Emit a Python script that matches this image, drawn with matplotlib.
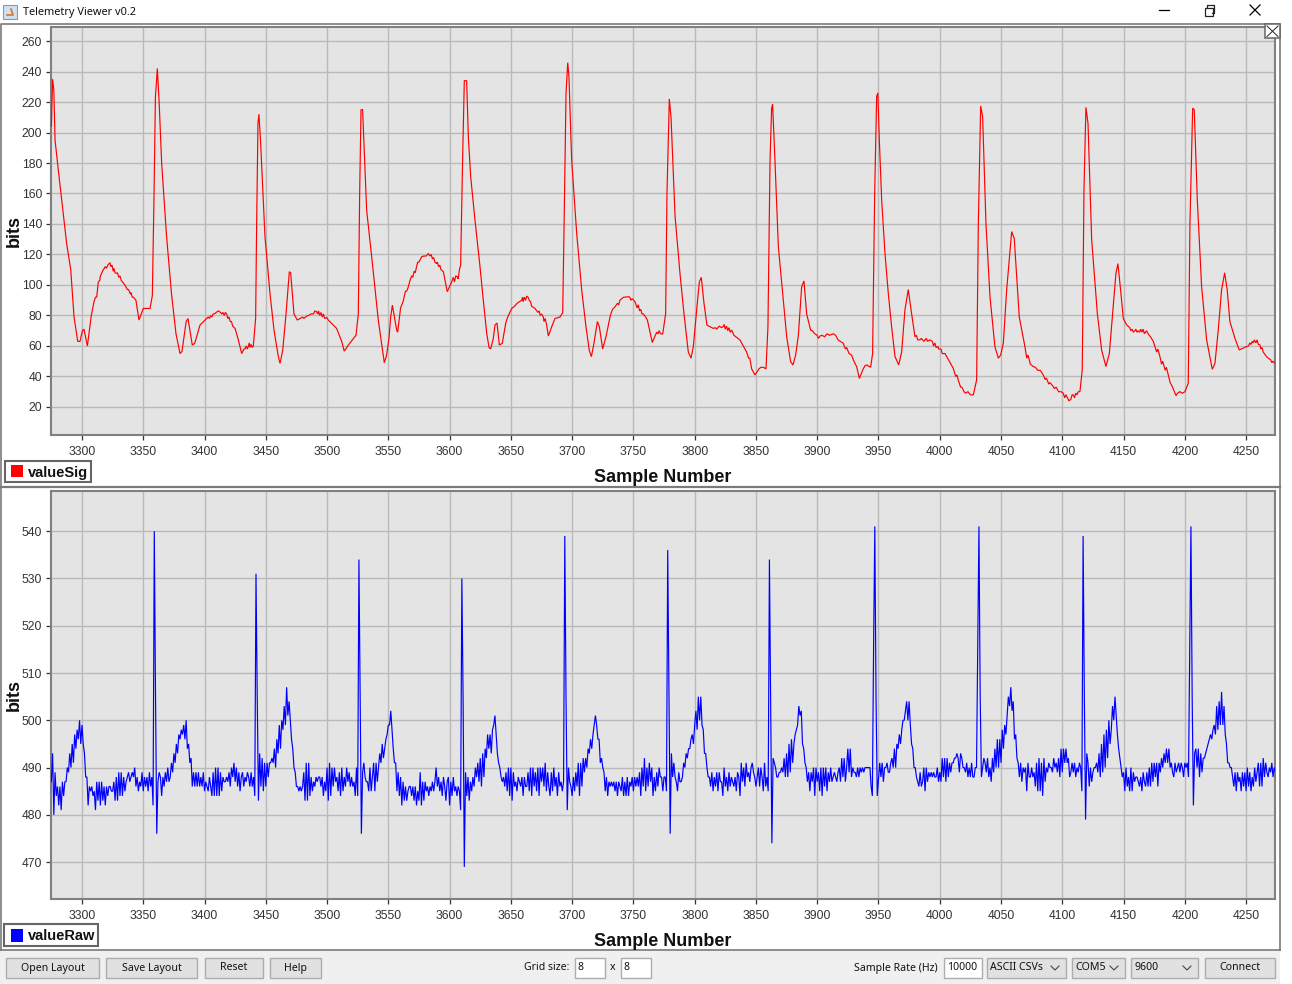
import numpy as np
import matplotlib
matplotlib.use("Agg")
import matplotlib.pyplot as plt
from matplotlib.patches import Rectangle

# ---------- data ----------
sig_samples = [
 3275,3276,3277,3278,3281,3285,3287.5,3290.8,3293.5,3296.5,3298.4,3300.3,3301.6,3304.4,3307.6,3309.8,3313.3,3317.4,3322.9,3328.3,3335,3342,3344,3346.5,3350,3355.5,3357.4,3358.8,3359.9,3361.5,3363,3365,3369,3373,3376.7,3380,3381.6,3383.3,3385,3386.5,3390,3392,3396.3,3401.7,3411.3,3418,3424.9,3427.6,3430.3,3432.2,3435.8,3439.8,3441.7,3442.5,3443.6,3444.4,3445.8,3449.3,3453.4,3456.7,3460,3461.6,3463.8,3466.5,3469.2,3470.3,3473,3475.7,3483.3,3491.5,3499.7,3507.8,3512,3514,3517.4,3523.6,3525.5,3526.6,3527.7,3529,3532.3,3536.4,3541.8,3546.7,3548.6,3550.5,3551.9,3553.3,3556.8,3557.6,3562,3567.7,3573,3577.2,3582.6,3589.4,3594.9,3598.1,3601.7,3606.3,3609,3610.6,3612,3613.9,
 3615.3,3617.2,3620.7,3624.8,3627.5,3630.3,3632.2,3633.5,3635.7,3637,3638.7,3640.6,3643,3645.8,3650.7,3658.8,3662.9,3669.7,3676.5,3679.2,3680.6,3683.3,3686,3690.1,3692.3,3693.4,3695,3696.4,3697.4,3699.6,3703.7,3707.8,3711.3,3714,3715.7,3717.8,3720.6,3722.2,3724.9,3727.6,3730.9,3735,3741.8,3745.9,3751.3,3758.1,3761.4,3765.4,3769,3773.9,3776.3,3777.4,3779.3,3780.7,3784,3788,3791.3,3794.8,3797,3798.9,3801.6,3803.8,3805.4,3807.6,3810,3815.2,3823.4,3830.2,3837,3842.4,3846.5,3849.2,3852.5,3858.2,3859.8,3861.5,3862.8,3863.6,3865.5,3868.3,3871.8,3875.1,3878.3,3880.2,3882.4,3884.6,3887.3,3889.2,3891.4,3894.6,3902.3,3913.1,3921.3,3928.1,3932.2,3934.4,3937.6,3940.4,3943.6,3945.2,3946.9,3948.5,3949.5,
 3950.7,3952.6,3955.3,3958,3960.7,3963.5,3966.5,3968.9,3971.6,3974.3,3977,3979.8,3983.9,3992,3998.8,4004.3,4011,4015.1,4019.8,4027.4,4030.1,4031.5,4033.4,4035,4037.7,4041,4045,4047.8,4049.7,4051.9,4054.6,4058.7,4060.8,4064.9,4069.5,4076.3,4084.5,4092.7,4100.8,4105.4,4109,4114.4,4116.3,4117.7,4119.3,4121,4124,4128.6,4132.1,4135.6,4138.4,4141.1,4143.8,4145.4,4147.6,4149.8,4152.5,4159.3,4168.8,4174.3,4179.7,4186.5,4192.8,4200.1,4202.8,4204.2,4206.4,4207.7,4210.2,4213.7,4217.8,4222.4,4224.6,4227.3,4230,4232.5,4234.6,4236.8,4240.9,4244.4,4250.4,4256.7,4261.3,4266.7,4273.5]
sig_values = [
 204,235,228,195,173,145,127,110,79,63,63,70,71,60,80,89,102,110,114.6,107.6,100,92,90,77,84.6,84.6,93,160,223,242,219,180,132,94.5,68,55,56.4,66,76,78,60.6,61.7,73.7,78,83,81,71.5,64,55,58,60,60,78,138,206,212,193,132,94.5,70.4,54,48.6,57,81,108.7,108,81,77,79.6,82.4,78.7,71.5,62.8,56.6,60.6,67,81,160,215,215,149,118.5,77,49,54,65,79,86.8,70.4,69,89,103,112,118.5,120.7,114,108.7,95.6,102,105.4,113,182,234,234,
 197,171,142.6,112,90,68,59,58,65,73.7,75,60.6,61.7,75,84.6,90,92.7,84.6,79,73.7,66.5,72.6,78,79,81.8,138,225.6,245.8,236.6,182,134,96.7,72.6,57,53,61.7,76,72.6,58,66,79,85.7,91.9,92.3,89,81,77,62.3,69,67.8,81,160,222,210,145,107.6,81,56,52,59.5,83.5,102,105,88,73.7,71.5,73,70.4,63.9,56,45,41,45,45,72.6,182,215.8,218.6,182,125,94.5,66,49.7,47.5,54,67,98.8,102.6,81,70.4,66.5,68,61.7,54,46.4,38.7,45,47.5,46,55,160,223.5,226,
 195,155.8,120.8,94.6,72.7,53,47.6,56,83.6,97,81.4,66,64,64,59.6,55,45.4,37.7,30,27.9,37.7,140.5,217.4,210.4,140.5,92.4,59.6,52,54,61.8,96.7,135,130.6,79,59.6,46.5,41,33.3,29,24,27.9,30,44.3,162,216.5,206,129.5,81.4,57.4,46.5,55,81.4,107.7,114,96.7,78,73.8,70,70,63,53,41,27.4,30,35.5,140.5,216,215,155.8,99,64,44.7,48.6,70.5,96.7,108,96.7,76,65,57.4,59.6,64,60.7,53,48.6]

# finer wiggle on the slow stretches between the spikes
sig_fine_samples = [
 3311,3312,3314.5,3315,3319,3320,3321,3323.5,3324.5,3325.5,3326,3327,3329,3330,3331,3332,3337,3338,3339.5,3340,3341,3343,
 3403,3404,3405,3406,3407,3408,3409.5,3413,3414,3415,3416,3417,3419,3420,3421,3422,3423,3433,3434,3435,3436.5,3437,3438,3439,
 3478,3480,3481,3485,3487,3489,3490,3492.5,3493,3494,3495,3496,3497,3498,3501,
 3560,3564,3565,3566,3569,3570,3571,3572,3574,3575,3579,3581,3584,3585,3586,3587,3588,3590,3591,3592,3593,3603,3604,3605,3607,3608,
 3647,3648,3653,3655,3657,3659.5,3660,3661,3662,3664,3665,3666,3667,3672,3673,3674,3675,3677,3678,
 3732,3733,3737,3738,3739,3743,3747,3748,3749,3753,3754,3755,3756,3757,3759,3760,3770,3771,3772,
 3817,3818,3820,3822,3824,3825,3826,3827,3828,3829,3831,3832,3844,3845,3854,3856,
 3896,3898,3900,3901,3904,3906,3908,3910,3915,3917,3923,3924,3926,3929,3930,3936,3939,
 3981,3982,3985,3987,3989,3990,3994,3995,3996,3997,3999,4001,4002,4013,4014,4017,4018,4021,4023,4025,
 4071,4072,4074,4078,4080,4082,4086,4087,4089,4090,4093.5,4095,4097,4099,4102,4103,4107,4108,4110,4111,4112,4113,
 4155,4156,4157,4158,4160,4161,4162,4163,4164,4165,4166,4167,4170,4172,4177,4178,4181,4182,4184,4185,4188,4190,4194,4196,4198,
 4252,4253,4254,4255,4256,4258,4259,4260,4262,4263,4264,4268,4270,4271,4272]
sig_fine_values = [
 92,92,103,106,112,111,113,112,113,109,111,108,108,105,106,103,97,97,94,95,92,91,
 79,78,80,79,81,81,82,82,81,82,80,82,78,79,76,76,73,58,60,58,62,59,61,59,
 78,79,78,80,81,81,83,81,83,80,82,79,81,78,77,
 85,96,96,98,106,105,109,108,115,115,119,119,119,120,117,118,115,115,112,113,110,105,102,106,104,110,
 78,80,86,88,89,92,89,92,90,92,90,89,86,82,83,80,81,76,78,
 82,84,88,87,90,92,92,90,91,85,87,83,84,81,80,79,68,70,68,
 72,71,73,72,74,71,73,70,72,69,69,67,52,52,46,46,
 70,68,67,65,67,66,68,67,67,64,58,59,55,52,50,42,47,
 67,64,65,63,65,63,63,60,62,59,58,58,55,40,41,33,33,29,30,28,
 52,54,48,46,44,44,38,39,35,36,32,33,30,30,26,28,25,28,26,29,28,30,
 72,70,71,69,71,69,70,69,71,69,71,68,68,66,56,58,48,50,44,46,36,33,29,30,29,
 60,62,61,63,62,62,64,61,58,59,56,52,51,49,50]

# each list holds one beat's samples; the last one falls on the matching entry of raw_last_samples
raw_last_samples = [3361,3444,3528,3612,3696,3780,3863,3949,4034,4119,4207,4275]
raw_beat_0 = [487,493,480,489,484,486,482,486,481,487,484,487,487,490,489,493,490,495,491,497,494,498,496,500,495,499,495,493,488,488,482,486,485,486,484,485,481,487,483,487,482,487,483,486,482,486,484,486,486,485,485,487,483,488,483,489,484,489,484,488,485,487,488,489,487,488,489,488,490,486,488,485,487,486,489,485,488,486,488,485,489,486,488,482,540,505,476]
raw_beat_1 = [487,489,488,484,488,486,489,487,490,487,488,491,489,493,491,495,493,497,496,498,497,499,496,500,494,495,491,492,486,489,486,489,486,489,486,488,486,489,485,487,486,485,488,486,484,489,484,490,484,490,484,489,485,488,487,487,488,487,489,486,490,488,491,487,490,486,489,485,488,489,486,488,487,489,488,486,489,486,488,484,531,505,483]
raw_beat_2 = [493,486,492,485,491,486,491,488,491,491,492,491,494,490,496,493,499,494,500,498,503,499,507,501,504,500,496,494,490,489,486,486,485,486,485,486,489,483,491,483,491,484,488,485,487,486,488,487,488,488,486,488,484,487,485,490,483,491,484,490,486,490,487,488,485,489,484,490,485,488,486,490,487,489,486,488,486,487,484,490,484,534,505,476]
raw_beat_3 = [489,491,488,487,487,485,490,485,488,491,485,491,487,490,493,491,495,492,494,496,497,499,499,502,498,494,491,491,485,489,484,488,482,487,483,486,483,485,486,486,484,486,483,486,482,485,483,489,482,487,483,487,485,486,484,486,485,487,485,487,490,486,488,485,487,484,488,486,483,487,488,482,487,484,488,485,486,484,486,485,481,530,505,469]
raw_beat_4 = [489,484,488,483,487,485,488,486,490,488,491,487,492,486,493,488,494,492,497,494,497,493,498,499,501,497,493,491,490,488,487,488,486,489,485,490,484,490,483,489,486,487,485,488,487,486,488,484,488,486,486,489,485,490,484,490,486,489,485,490,484,490,487,490,486,491,485,489,486,484,489,485,490,486,488,484,489,486,487,485,487,539,505,481]
raw_beat_5 = [490,487,486,484,488,485,489,486,491,484,491,486,492,489,492,490,494,493,496,494,497,499,501,499,496,496,491,492,490,489,485,488,484,487,486,487,486,487,485,487,484,487,486,485,488,484,487,484,488,484,487,486,488,485,488,486,488,486,489,484,490,486,492,485,490,486,491,487,490,484,488,485,489,486,490,488,488,485,488,488,485,536,505,476]
raw_beat_6 = [493,488,491,488,487,485,489,487,487,488,491,490,493,492,494,494,496,497,495,499,502,498,505,500,505,499,498,493,493,490,488,488,486,489,485,488,486,489,485,489,487,487,484,490,486,488,485,489,486,488,487,486,488,485,489,488,484,491,487,490,486,491,488,489,487,490,491,489,488,486,488,490,486,490,488,485,491,486,488,485,534,505,474]
raw_beat_7 = [492,491,490,488,488,489,489,490,489,492,488,493,488,495,489,496,491,495,497,498,499,503,501,502,495,494,491,490,487,489,485,489,487,490,484,490,487,489,485,490,484,490,486,490,485,489,487,490,487,488,489,488,487,489,490,487,492,488,492,487,490,494,489,494,488,490,489,489,488,490,488,490,489,490,489,490,490,490,490,490,486,484,515,541,505,484]
raw_beat_8 = [491,488,491,487,490,490,491,489,489,491,492,490,494,490,495,494,497,495,498,500,500,502,504,500,504,499,495,494,490,490,488,487,486,489,486,487,490,485,490,487,489,488,489,488,489,488,488,490,487,489,487,492,488,492,487,492,488,491,489,491,491,492,492,493,492,489,493,492,490,490,489,491,488,490,488,491,488,488,490,490,515,541,505,488]
raw_beat_9 = [490,492,491,489,492,488,490,487,492,489,494,490,496,490,496,491,498,494,499,497,501,505,503,507,502,504,496,497,492,491,488,491,487,490,489,490,485,491,488,488,490,488,489,486,491,485,492,485,491,484,492,487,490,489,491,490,490,489,492,490,491,489,492,488,494,489,494,491,494,491,492,488,489,491,489,491,488,490,489,491,490,485,539,505,479]
raw_beat_10 = [493,491,486,490,487,489,490,490,491,489,493,488,495,489,497,490,498,492,500,495,498,503,500,505,501,497,494,492,490,488,489,485,490,486,488,485,490,485,489,487,488,488,487,486,488,485,489,487,486,489,486,490,486,491,487,491,488,491,486,491,489,492,490,493,491,494,491,494,490,491,489,488,491,489,490,491,489,491,490,488,491,490,491,488,515,541,505,482]
raw_beat_11 = [493,494,490,494,488,493,489,492,492,493,494,495,496,497,496,498,499,497,503,498,504,499,506,499,503,497,495,491,491,490,490,488,486,489,485,489,487,488,485,489,486,489,485,490,486,489,485,488,486,490,487,489,491,486,491,486,492,488,491,489,488,490,489,491,488,490,489,492]
raw_beats = [raw_beat_0,raw_beat_1,raw_beat_2,raw_beat_3,raw_beat_4,raw_beat_5,raw_beat_6,raw_beat_7,raw_beat_8,raw_beat_9,raw_beat_10,raw_beat_11]

x_ticks = list(range(3300, 4251, 50))
sig_y_ticks = list(range(20, 261, 20))
raw_y_ticks = list(range(470, 541, 10))
x_label = "Sample Number"
y_label = "bits"
sig_name = "valueSig"
raw_name = "valueRaw"
window_title = "Telemetry Viewer v0.2"

# ---------- helpers ----------
W, H = 1292, 984
UI = "Noto Sans"
ARIAL = "Liberation Sans"
UI_SIZE = 7.6
fig = plt.figure(figsize=(W/100, H/100), dpi=100, facecolor="white")

def pix_axes(l, t, r, b, z):
    return fig.add_axes([l/W, 1-b/H, (r-l)/W, (b-t)/H], zorder=z)

bg = fig.add_axes([0, 0, 1, 1], zorder=0); bg.set_xlim(0, W); bg.set_ylim(H, 0); bg.axis("off")
fg = fig.add_axes([0, 0, 1, 1], zorder=5); fg.set_xlim(0, W); fg.set_ylim(H, 0); fg.axis("off"); fg.patch.set_alpha(0)

def rect(ax, x0, y0, x1, y1, fc, ec="none", lw=1.0, z=1):
    ax.add_patch(Rectangle((x0, y0), x1-x0, y1-y0, facecolor=fc, edgecolor=ec, linewidth=lw, zorder=z))

def plot_panel(t, b, xs, ys, color, yticks, ylim):
    ax = pix_axes(51, t, 1275, b, 1)
    ax.set_facecolor("#e4e4e4")
    ax.plot(xs, ys, color=color, lw=0.85, solid_joinstyle="miter", zorder=3)
    ax.set_xlim(3274.7, 4273.6)
    ax.set_ylim(*ylim)
    ax.set_xticks(x_ticks)
    ax.set_yticks(yticks)
    ax.grid(True, color="#bababa", lw=1.0, zorder=1)
    ax.set_axisbelow(True)
    ax.tick_params(length=3.8, width=0.9, color="#333333", labelcolor="#333333", labelsize=8.7)
    ax.tick_params(axis="x", pad=4.3)
    ax.tick_params(axis="y", pad=2.5)
    for lab in ax.get_xticklabels() + ax.get_yticklabels():
        lab.set_fontfamily(ARIAL)
    for s in ax.spines.values():
        s.set_color("#808080"); s.set_linewidth(1.5)
    ax.set_xlabel(x_label, fontsize=13, fontweight="bold", family=ARIAL, color="#111111", va="top")
    ax.set_ylabel(y_label, fontsize=13, fontweight="bold", family=ARIAL, color="#111111", va="center")
    ax.xaxis.set_label_coords((663-51)/1224, -(469-435)/408)
    ax.yaxis.set_label_coords((14-51)/1224, 1-(231-27)/408)
    return ax

# ---------- window chrome ----------
rect(bg, 0, 950, 1280, 984, "#f0f0f0")
bg.plot([0.5, 0.5, 1279.5, 1279.5], [950, 24, 24, 950], color="#7a7a7a", lw=1.2)
bg.plot([0, 1280], [950, 950], color="#7a7a7a", lw=1.2)
bg.plot([0, 1280], [487, 487], color="#7a7a7a", lw=1.6)
rect(bg, 3, 5, 17, 19, "#cfe0ee", "#7f9db9", 0.8)
bg.plot([7, 13, 11], [15, 15, 9], color="#d9742b", lw=1.2)
bg.text(23, 12, window_title, family=UI, fontsize=7.9, va="center", ha="left", color="#111111")
bg.plot([1159, 1169], [10, 10], color="black", lw=0.9)
rect(bg, 1204.5, 7.5, 1212.5, 15.5, "white", "#222222", 0.9, 2)
bg.plot([1207, 1207, 1214, 1214, 1212], [7, 5, 5, 13, 13], color="#222222", lw=0.9)
bg.plot([1250, 1260], [5, 15], color="black", lw=0.9)
bg.plot([1250, 1260], [15, 5], color="black", lw=0.9)

TY = 968
buttons = [("Open Layout", 6, 99), ("Save Layout", 106, 197), ("Reset", 204.5, 262.5), ("Help", 270, 320.5), ("Connect", 1204.5, 1275)]
for label, x0, x1 in buttons:
    rect(bg, x0, 957.5, x1, 977.5, "#e1e1e1", "#adadad", 1.0)
    bg.text((x0+x1)/2, TY, label, family=UI, fontsize=UI_SIZE, ha="center", va="center", color="#111111")
combos = [("ASCII CSVs", 987, 1066), ("COM5", 1072, 1125), ("9600", 1131, 1198)]
for label, x0, x1 in combos:
    rect(bg, x0, 957.5, x1, 977.5, "#e1e1e1", "#adadad", 1.0)
    bg.text(x0+3.5, TY, label, family=UI, fontsize=UI_SIZE, ha="left", va="center", color="#111111")
    bg.plot([x1-15, x1-11, x1-7], [966, 970, 966], color="#444444", lw=0.8)
fields = [("8", 575, 605), ("8", 621, 651), ("10000", 944, 981.5)]
for label, x0, x1 in fields:
    rect(bg, x0, 957.5, x1, 977.5, "white", "#adadad", 1.0)
    bg.text(x0+3, TY, label, family=UI, fontsize=UI_SIZE, ha="left", va="center", color="#111111")
bg.text(569, TY, "Grid size:", family=UI, fontsize=UI_SIZE, ha="right", va="center", color="#111111")
bg.text(612.5, TY, "x", family=UI, fontsize=UI_SIZE, ha="center", va="center", color="#111111")
bg.text(938, TY, "Sample Rate (Hz)", family=UI, fontsize=UI_SIZE, ha="right", va="center", color="#111111")

# ---------- panels ----------
all_sig_x = np.array(sig_samples + sig_fine_samples, dtype=float)
all_sig_y = np.array(sig_values + sig_fine_values, dtype=float)
order = np.argsort(all_sig_x, kind="stable")
plot_panel(27, 435, all_sig_x[order], all_sig_y[order], "#ff0000", sig_y_ticks, (1.6, 269.2))
raw_x, raw_y = [], []
for last, beat in zip(raw_last_samples, raw_beats):
    raw_x.extend(np.arange(last-len(beat)+1, last+1))
    raw_y.extend(beat)
plot_panel(491, 899, raw_x, raw_y, "#0000ff", raw_y_ticks, (462.2, 548.5))

# ---------- legends and close box ----------
for (x0, y0, x1, y1, sq0, sq1, color, name) in [(5, 461, 90.5, 482, 465, 477, "#ff0000", sig_name),
                                                (4, 924, 98, 946, 929, 941.5, "#0000ff", raw_name)]:
    rect(fg, x0, y0, x1, y1, "white", "#666666", 1.5)
    rect(fg, 11, sq0, 23, sq1, color, z=2)
    fg.text(28, (y0+y1)/2+1, name, family=ARIAL, fontweight="bold", fontsize=10.5, ha="left", va="center", color="#111111", zorder=3)
rect(fg, 1265, 24, 1279.5, 38, "white", "#666666", 1.1)
fg.plot([1267, 1278], [26, 36.5], color="#222222", lw=0.7, zorder=3)
fg.plot([1267, 1278], [36.5, 26], color="#222222", lw=0.7, zorder=3)

fig.savefig("out.png", dpi=100, facecolor="white")
